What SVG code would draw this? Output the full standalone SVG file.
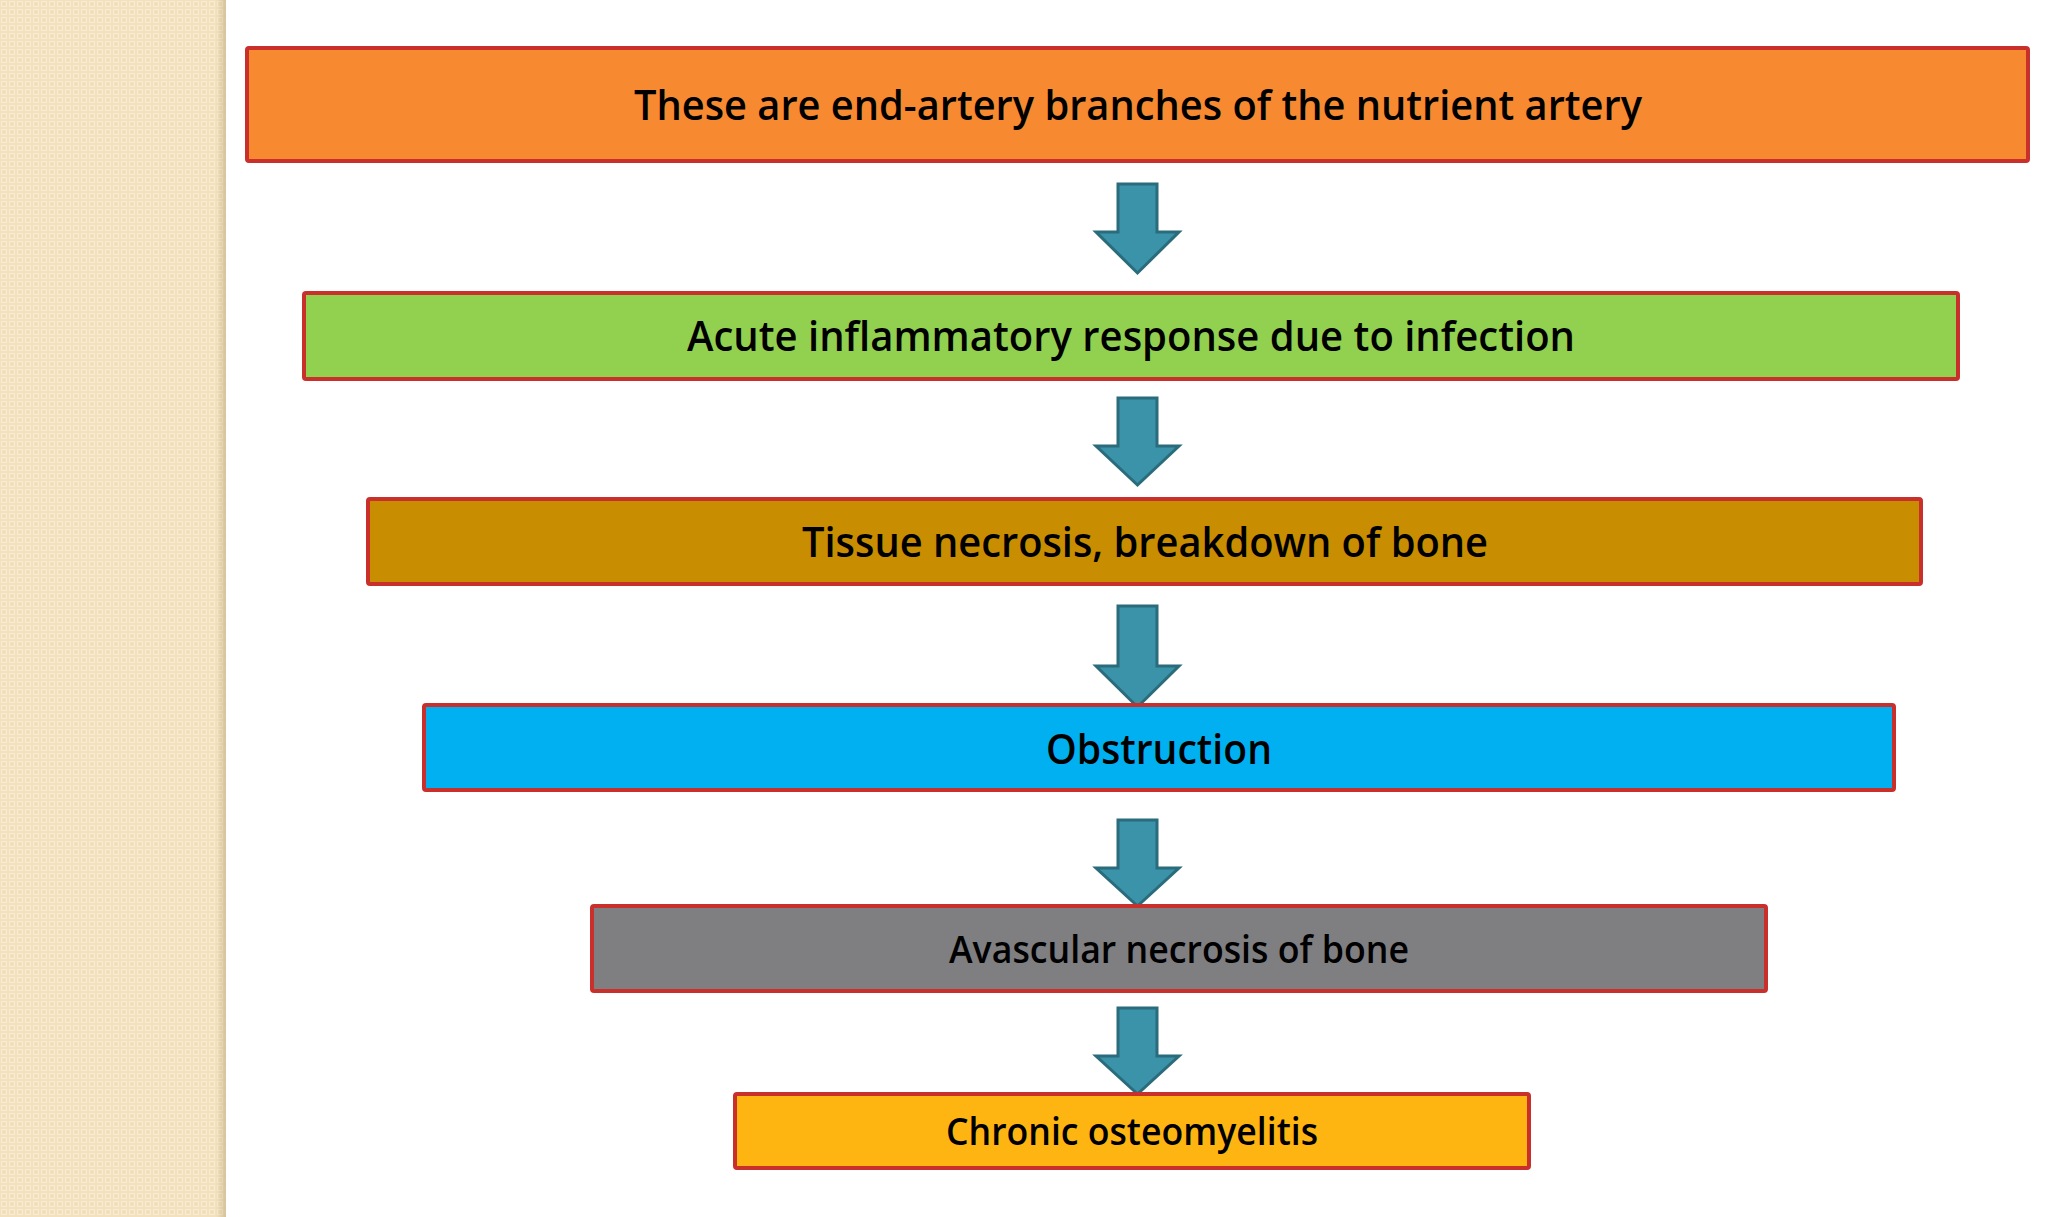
<svg xmlns="http://www.w3.org/2000/svg" width="2048" height="1217" viewBox="0 0 2048 1217">
<style>
.box{stroke:#C9302C;stroke-width:4}
.lbl{font-family:"Open Sans","Noto Sans","Liberation Sans",sans-serif;font-weight:600;fill:#000;text-anchor:middle}
.arrow{fill:#3A93A8;stroke:#2A6B7C;stroke-width:3;stroke-linejoin:miter}
</style>
<defs>
<pattern id="weave" width="8" height="8" patternUnits="userSpaceOnUse">
<rect width="8" height="8" fill="#F2E1BC"/>
<rect x="1.5" y="1.5" width="5" height="5" fill="none" stroke="#F8EDD3" stroke-width="1"/>
<rect x="3.5" y="3.5" width="1" height="1" fill="#EBD6AB"/>
</pattern>
<linearGradient id="shade" x1="0" x2="1" y1="0" y2="0">
<stop offset="0" stop-color="#C9B48A" stop-opacity="0"/>
<stop offset="1" stop-color="#C9B48A" stop-opacity="0.7"/>
</linearGradient>
</defs>
<rect width="2048" height="1217" fill="#FFFFFF"/>
<g id="sidebar">
<rect x="0" y="0" width="226" height="1217" fill="url(#weave)"/>
<rect x="216" y="0" width="10" height="1217" fill="url(#shade)"/>
</g>
<g id="connectors">
<polygon class="arrow" points="1118,184 1157,184 1157,232 1179,232 1137.5,273 1096,232 1118,232"/>
<polygon class="arrow" points="1118,398 1157,398 1157,446 1179,446 1137.5,485 1096,446 1118,446"/>
<polygon class="arrow" points="1118,606 1157,606 1157,666 1179,666 1137.5,707 1096,666 1118,666"/>
<polygon class="arrow" points="1118,820 1157,820 1157,868 1179,868 1137.5,906 1096,868 1118,868"/>
<polygon class="arrow" points="1118,1008 1157,1008 1157,1056 1179,1056 1137.5,1094 1096,1056 1118,1056"/>
</g>
<g id="n1">
<rect class="box" x="247" y="48" width="1781" height="113" rx="2" fill="#F78931"/>
<text class="lbl" x="1138" y="120" font-size="41" textLength="1008" lengthAdjust="spacingAndGlyphs">These are end-artery branches of the nutrient artery</text>
</g>
<g id="n2">
<rect class="box" x="304" y="293" width="1654" height="86" rx="2" fill="#92D050"/>
<text class="lbl" x="1131" y="351" font-size="41" textLength="888" lengthAdjust="spacingAndGlyphs">Acute inflammatory response due to infection</text>
</g>
<g id="n3">
<rect class="box" x="368" y="499" width="1553" height="85" rx="2" fill="#C88D00"/>
<text class="lbl" x="1145" y="557" font-size="41" textLength="686" lengthAdjust="spacingAndGlyphs">Tissue necrosis, breakdown of bone</text>
</g>
<g id="n4">
<rect class="box" x="424" y="705" width="1470" height="85" rx="2" fill="#00B0F0"/>
<text class="lbl" x="1159" y="764" font-size="41" textLength="226" lengthAdjust="spacingAndGlyphs">Obstruction</text>
</g>
<g id="n5">
<rect class="box" x="592" y="906" width="1174" height="85" rx="2" fill="#7F7E80"/>
<text class="lbl" x="1179" y="963" font-size="37" textLength="460" lengthAdjust="spacingAndGlyphs">Avascular necrosis of bone</text>
</g>
<g id="n6">
<rect class="box" x="735" y="1094" width="794" height="74" rx="2" fill="#FFB511"/>
<text class="lbl" x="1132" y="1145" font-size="37" textLength="372" lengthAdjust="spacingAndGlyphs">Chronic osteomyelitis</text>
</g>
</svg>
